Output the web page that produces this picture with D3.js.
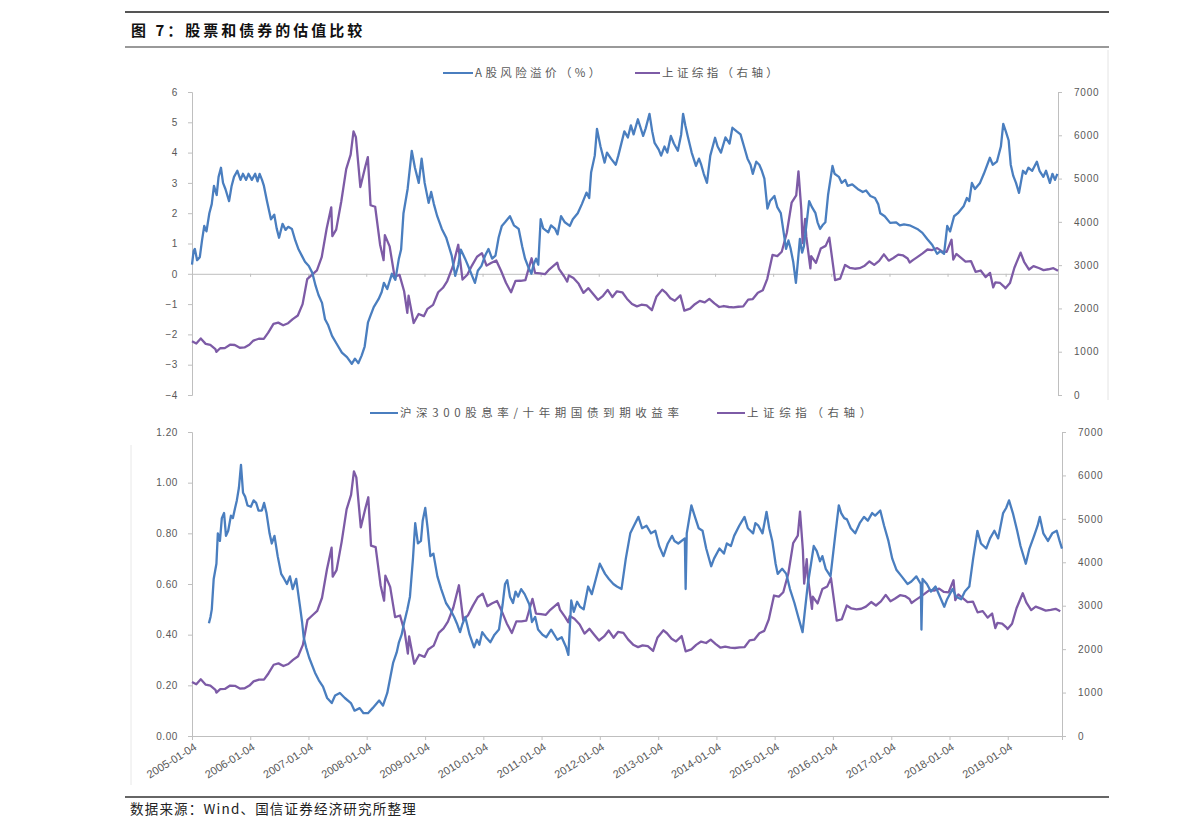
<!DOCTYPE html>
<html><head><meta charset="utf-8">
<script src="https://cdn.jsdelivr.net/npm/d3@7"></script>
<style>
body{margin:0;background:#fff;}
svg{display:block;}
</style></head>
<body><svg id="c" width="1191" height="838"></svg>
<script>
// ---------- DATA ----------
const titleText = "图 7：股票和债券的估值比较";
const sourceText = "数据来源：Wind、国信证券经济研究所整理";
const topLegend = ["A股风险溢价（%）", "上证综指（右轴）"];
const bottomLegend = ["沪深300股息率/十年期国债到期收益率", "上证综指（右轴）"];
const xTickLabels = ["2005-01-04","2006-01-04","2007-01-04","2008-01-04","2009-01-04","2010-01-04","2011-01-04","2012-01-04","2013-01-04","2014-01-04","2015-01-04","2016-01-04","2017-01-04","2018-01-04","2019-01-04"];
const topLeftTicks = [-4,-3,-2,-1,0,1,2,3,4,5,6];
const rightTicks = [0,1000,2000,3000,4000,5000,6000,7000];
const bottomLeftTicks = [0,0.2,0.4,0.6,0.8,1.0,1.2];

// 上证综指
const shDates = ["2005-01-04","2005-01-31","2005-02-28","2005-03-31","2005-04-29","2005-05-31","2005-06-06","2005-06-30","2005-07-29","2005-08-31","2005-09-30","2005-10-31","2005-11-30","2005-12-30",
"2006-01-25","2006-02-28","2006-03-31","2006-04-28","2006-05-31","2006-06-30","2006-07-31","2006-08-31","2006-09-29","2006-10-31","2006-11-30","2006-12-29",
"2007-01-31","2007-02-28","2007-03-30","2007-04-30","2007-05-29","2007-06-05","2007-06-29","2007-07-31","2007-08-31","2007-09-28","2007-10-16","2007-10-31","2007-11-28","2007-12-28",
"2008-01-14","2008-01-31","2008-02-29","2008-03-31","2008-04-22","2008-04-30","2008-05-30","2008-06-30","2008-07-31","2008-08-29","2008-09-18","2008-09-26","2008-10-28","2008-11-28","2008-12-31",
"2009-01-23","2009-02-27","2009-03-31","2009-04-30","2009-05-27","2009-06-30","2009-08-04","2009-08-31","2009-09-30","2009-10-30","2009-11-30","2009-12-31",
"2010-01-29","2010-02-26","2010-03-31","2010-04-30","2010-05-31","2010-07-02","2010-07-30","2010-08-31","2010-09-30","2010-11-08","2010-11-30","2010-12-31",
"2011-01-31","2011-02-28","2011-04-18","2011-04-29","2011-05-31","2011-06-20","2011-06-30","2011-07-29","2011-08-31","2011-09-30","2011-10-31","2011-11-30","2011-12-30",
"2012-01-31","2012-02-29","2012-03-30","2012-04-27","2012-05-31","2012-06-29","2012-07-31","2012-08-31","2012-09-28","2012-10-31","2012-12-03","2012-12-31",
"2013-02-06","2013-02-28","2013-03-29","2013-04-26","2013-05-31","2013-06-25","2013-07-31","2013-08-30","2013-09-30","2013-10-31","2013-11-29","2013-12-31",
"2014-01-30","2014-02-28","2014-03-31","2014-04-30","2014-05-30","2014-06-30","2014-07-31","2014-08-29","2014-09-30","2014-10-31","2014-11-28","2014-12-31",
"2015-01-30","2015-02-27","2015-03-31","2015-04-30","2015-05-29","2015-06-12","2015-06-30","2015-07-08","2015-07-24","2015-07-31","2015-08-26","2015-08-31","2015-09-30","2015-10-30","2015-11-30","2015-12-23",
"2016-01-28","2016-02-29","2016-03-31","2016-04-29","2016-05-31","2016-06-30","2016-07-29","2016-08-31","2016-09-30","2016-10-31","2016-11-30","2016-12-30",
"2017-01-26","2017-02-28","2017-03-31","2017-04-28","2017-05-11","2017-05-31","2017-06-30","2017-07-31","2017-08-31","2017-09-29","2017-10-31","2017-11-30","2017-12-29",
"2018-01-29","2018-02-09","2018-02-28","2018-03-30","2018-04-27","2018-05-31","2018-06-29","2018-07-31","2018-08-31","2018-09-28","2018-10-18","2018-10-31","2018-11-30","2018-12-28",
"2019-01-03","2019-01-31","2019-02-28","2019-04-08","2019-04-30","2019-05-31","2019-06-28","2019-07-31","2019-08-30","2019-09-30","2019-10-31","2019-11-29"];
const shValues = [1243,1191,1306,1181,1159,1060,998,1080,1083,1162,1155,1092,1099,1161,
1258,1299,1298,1440,1641,1672,1612,1658,1752,1837,2099,2675,
2786,2881,3183,3841,4335,3670,3821,4471,5218,5552,6092,5954,4803,5262,
5497,4383,4349,3473,3116,3693,3433,2736,2775,2397,1896,2293,1664,1871,1821,
1991,2082,2374,2477,2633,2959,3471,2667,2779,2996,3195,3277,
2989,3051,3109,2870,2592,2373,2638,2639,2655,3159,2820,2808,
2790,2905,3057,2912,2743,2621,2762,2701,2568,2359,2468,2333,2199,
2292,2428,2263,2396,2373,2225,2103,2047,2086,2069,1959,2269,
2434,2366,2237,2178,2301,1950,1994,2098,2175,2141,2220,2116,
2033,2056,2033,2026,2039,2048,2202,2217,2364,2420,2683,3235,
3210,3310,3748,4442,4612,5166,4277,3507,4070,3664,2927,3206,3053,3383,3445,3636,
2656,2688,3004,2938,2917,2930,2979,3085,3005,3100,3250,3104,
3159,3242,3223,3155,3062,3117,3192,3273,3361,3349,3393,3317,3307,
3587,3129,3259,3169,3082,3095,2847,2876,2725,2821,2486,2603,2588,2494,
2464,2585,2941,3288,3078,2899,2979,2933,2886,2905,2929,2872];

// A股风险溢价（%）
const erpDates = ["2005-01-04","2005-01-14","2005-01-22","2005-02-05","2005-02-22","2005-03-08","2005-03-22","2005-04-05","2005-04-23","2005-05-08","2005-05-22","2005-06-08","2005-06-20","2005-07-05","2005-07-18","2005-08-02","2005-08-25","2005-09-10","2005-09-25","2005-10-16","2005-11-05","2005-11-20","2005-12-10","2005-12-25",
"2006-01-15","2006-02-05","2006-02-20","2006-03-05","2006-03-20","2006-04-01","2006-04-20","2006-05-15","2006-06-05","2006-06-20","2006-07-05","2006-07-27","2006-08-15","2006-09-01","2006-09-24","2006-10-15","2006-11-05","2006-11-25","2006-12-15",
"2007-01-08","2007-01-30","2007-02-20","2007-03-10","2007-04-01","2007-04-20","2007-05-10","2007-06-03","2007-07-01","2007-08-04","2007-09-05","2007-10-05","2007-10-25","2007-11-15","2007-12-06","2007-12-25",
"2008-01-15","2008-01-30","2008-02-20","2008-03-22","2008-04-10","2008-04-24","2008-05-15","2008-06-13","2008-07-05","2008-07-27","2008-08-10","2008-08-25","2008-09-20","2008-10-16","2008-11-05","2008-11-29","2008-12-17",
"2009-01-05","2009-01-30","2009-02-15","2009-03-04","2009-03-25","2009-04-23","2009-05-20","2009-06-24","2009-07-16","2009-08-05","2009-08-20","2009-09-16","2009-10-10","2009-11-17","2009-12-05","2009-12-28",
"2010-01-20","2010-02-10","2010-03-05","2010-03-26","2010-04-15","2010-05-05","2010-05-25","2010-06-25","2010-07-20","2010-08-19","2010-09-10","2010-09-28","2010-10-20","2010-11-07","2010-11-20","2010-12-06","2010-12-20",
"2011-01-04","2011-01-20","2011-02-21","2011-03-10","2011-04-05","2011-04-20","2011-05-12","2011-06-05","2011-07-06","2011-07-25","2011-08-25","2011-09-20","2011-10-19","2011-11-05","2011-11-17","2011-12-10","2011-12-24",
"2012-01-15","2012-02-10","2012-02-25","2012-03-21","2012-04-20","2012-05-06","2012-06-13","2012-07-05","2012-07-24","2012-08-10","2012-09-06","2012-10-09","2012-10-25","2012-11-18","2012-12-05","2012-12-20",
"2013-01-15","2013-01-30","2013-02-20","2013-03-10","2013-04-01","2013-04-20","2013-05-15","2013-06-05","2013-06-17","2013-07-01","2013-07-16","2013-08-10","2013-09-06","2013-09-25","2013-10-09","2013-10-25","2013-11-14","2013-12-05",
"2014-01-04","2014-01-20","2014-02-10","2014-03-10","2014-04-05","2014-04-23","2014-05-20","2014-06-13","2014-07-05","2014-07-27","2014-08-15","2014-08-29","2014-09-20","2014-10-09","2014-10-25","2014-11-10","2014-11-29","2014-12-15",
"2015-01-12","2015-01-30","2015-02-21","2015-03-10","2015-03-26","2015-04-10","2015-04-23","2015-05-10","2015-05-27","2015-06-10","2015-06-21","2015-07-05","2015-07-16","2015-08-05","2015-08-18","2015-09-05","2015-09-27","2015-10-10","2015-10-26","2015-11-10","2015-11-28","2015-12-15",
"2016-01-12","2016-01-25","2016-02-21","2016-03-10","2016-04-01","2016-04-16","2016-05-15","2016-06-18","2016-07-20","2016-08-10","2016-09-06","2016-10-05","2016-10-25","2016-11-07","2016-12-05",
"2017-01-08","2017-02-15","2017-03-10","2017-04-05","2017-05-10","2017-06-28","2017-07-30","2017-08-29","2017-09-30","2017-10-30","2017-11-20","2017-12-13",
"2018-01-02","2018-01-20","2018-02-14","2018-03-10","2018-04-16","2018-05-05","2018-05-20","2018-06-06","2018-06-25","2018-07-27","2018-08-20","2018-09-27","2018-10-15","2018-11-10","2018-12-05","2018-12-20",
"2019-01-05","2019-01-23","2019-02-05","2019-02-21","2019-03-10","2019-03-29","2019-04-23","2019-05-10","2019-05-27","2019-06-20","2019-07-19","2019-08-05","2019-08-29","2019-09-15","2019-10-09","2019-10-25","2019-11-10","2019-11-25"];
const erpValues = [0.30,0.75,0.82,0.45,0.55,1.10,1.58,1.40,2.00,2.30,2.90,2.60,3.20,3.50,3.00,2.80,2.40,2.90,3.20,3.40,3.10,3.30,3.10,3.30,
3.10,3.30,3.05,3.30,3.10,2.90,2.40,1.80,1.95,1.50,1.19,1.65,1.45,1.55,1.48,1.10,0.80,0.60,0.40,
0.26,0.03,-0.40,-0.70,-0.96,-1.50,-1.70,-2.05,-2.30,-2.60,-2.75,-2.97,-2.80,-2.95,-2.70,-2.40,
-1.60,-1.39,-1.10,-0.83,-0.60,-0.30,-0.50,0.00,-0.20,0.50,0.80,2.00,2.80,4.06,3.50,3.00,3.80,
3.00,2.34,2.70,2.30,1.90,1.48,1.20,0.60,-0.07,0.30,0.80,0.50,0.20,-0.30,0.10,0.26,
0.60,0.82,0.50,0.60,1.20,1.58,1.70,1.90,1.60,1.48,0.90,0.50,0.20,0.00,0.30,0.50,0.30,
1.80,1.50,1.37,1.60,1.48,1.30,1.90,1.70,1.58,1.80,2.00,2.30,2.68,2.50,3.34,3.90,4.78,
4.20,3.67,4.00,3.80,3.60,3.90,4.70,4.50,4.90,4.60,5.10,4.55,4.80,5.28,4.70,4.32,
4.10,3.90,4.20,4.00,4.55,4.30,4.06,4.60,5.28,4.90,4.55,4.00,3.56,3.80,3.60,3.30,3.00,3.90,
4.49,4.20,4.00,4.50,4.30,4.82,4.70,4.60,4.20,3.80,3.60,3.30,3.70,3.60,3.40,3.14,2.15,2.40,
2.57,2.20,2.00,1.40,0.82,1.10,0.85,0.40,-0.30,0.50,1.15,0.70,0.90,1.80,2.40,2.20,2.00,1.70,1.48,1.60,1.70,2.60,
3.56,3.30,3.20,3.00,3.10,2.90,2.95,2.80,2.70,2.75,2.57,2.50,2.30,2.00,1.90,
1.68,1.70,1.60,1.63,1.60,1.48,1.35,1.15,0.95,0.66,0.75,0.66,
1.58,1.40,1.90,2.00,2.24,2.50,2.40,3.00,2.80,3.00,3.30,3.83,3.60,3.70,4.20,4.95,
4.70,4.40,3.60,3.23,3.00,2.67,3.40,3.30,3.50,3.40,3.70,3.40,3.20,3.40,3.00,3.30,3.10,3.30];

// 沪深300股息率/十年期国债到期收益率
const dyDates = ["2005-04-20","2005-04-30","2005-05-08","2005-05-20","2005-06-06","2005-06-15","2005-06-28","2005-07-10","2005-07-24","2005-08-05","2005-08-19","2005-09-05","2005-09-17","2005-10-01","2005-10-12","2005-10-25","2005-11-07","2005-11-20","2005-12-03","2005-12-18",
"2006-01-08","2006-01-25","2006-02-10","2006-02-25","2006-03-18","2006-04-01","2006-04-16","2006-05-05","2006-05-19","2006-06-05","2006-06-25","2006-07-17","2006-08-05","2006-08-22","2006-09-10","2006-09-27","2006-10-19","2006-11-10","2006-11-25","2006-12-05","2006-12-20",
"2007-01-08","2007-02-14","2007-03-10","2007-04-05","2007-05-01","2007-05-30","2007-06-20","2007-07-20","2007-08-20","2007-09-27","2007-10-20","2007-11-21","2007-12-15",
"2008-01-12","2008-02-10","2008-03-22","2008-04-15","2008-05-12","2008-06-18","2008-07-10","2008-07-24","2008-08-10","2008-08-25","2008-09-15","2008-10-01","2008-10-20","2008-11-03","2008-11-20","2008-12-09","2008-12-20",
"2009-01-05","2009-01-20","2009-02-06","2009-02-25","2009-03-22","2009-04-15","2009-05-15","2009-06-10","2009-07-05","2009-07-25","2009-08-11","2009-08-25","2009-09-13","2009-10-10","2009-11-07","2009-11-25","2009-12-10","2009-12-28",
"2010-01-20","2010-02-17","2010-03-15","2010-04-12","2010-05-05","2010-05-20","2010-06-03","2010-06-20","2010-07-09","2010-07-25","2010-08-10","2010-08-29","2010-09-20","2010-10-19","2010-11-05","2010-11-25","2010-12-13",
"2011-01-10","2011-02-03","2011-03-05","2011-04-13","2011-05-10","2011-06-07","2011-06-21","2011-07-09","2011-07-25","2011-08-15","2011-09-02","2011-09-25","2011-10-23","2011-11-15","2011-12-10",
"2012-01-04","2012-02-06","2012-03-01","2012-03-29","2012-04-20","2012-05-19","2012-06-15","2012-07-13","2012-08-05","2012-09-02","2012-09-25","2012-10-23","2012-11-20","2012-12-17",
"2013-01-10","2013-02-06","2013-03-05","2013-04-01","2013-04-16","2013-05-10","2013-06-20","2013-06-25","2013-07-02","2013-07-31","2013-08-25","2013-09-15","2013-10-09","2013-11-01","2013-12-02","2013-12-20",
"2014-01-23","2014-02-20","2014-03-10","2014-04-05","2014-04-25","2014-05-27","2014-06-29","2014-07-20","2014-08-22","2014-09-05","2014-09-24","2014-10-20","2014-11-14","2014-12-01","2014-12-20",
"2015-01-10","2015-01-23","2015-02-20","2015-03-18","2015-04-10","2015-05-08","2015-06-01","2015-06-28","2015-07-10","2015-07-31","2015-08-20","2015-09-06","2015-09-25","2015-10-15","2015-10-30","2015-11-20","2015-12-20",
"2016-01-20","2016-02-10","2016-02-25","2016-03-15","2016-04-01","2016-04-25","2016-05-23","2016-06-20","2016-07-17","2016-08-10","2016-09-06","2016-09-25","2016-10-27","2016-11-20","2016-12-17",
"2017-01-10","2017-02-06","2017-03-10","2017-04-16","2017-05-10","2017-06-10","2017-07-08","2017-07-12","2017-07-19","2017-08-15","2017-09-10","2017-10-08","2017-11-05","2017-12-02","2017-12-20",
"2018-01-23","2018-02-15","2018-03-18","2018-04-10","2018-05-08","2018-06-01","2018-06-28","2018-07-20","2018-08-22","2018-09-15","2018-10-12","2018-11-05","2018-12-06","2018-12-25",
"2019-01-12","2019-02-05","2019-03-04","2019-03-25","2019-04-27","2019-05-20","2019-06-18","2019-07-10","2019-07-24","2019-08-15","2019-09-13","2019-10-10","2019-11-07","2019-11-25","2019-12-10"];
const dyValues = [0.445,0.47,0.50,0.62,0.68,0.80,0.77,0.86,0.88,0.79,0.81,0.87,0.86,0.90,0.93,0.98,1.07,0.96,0.945,0.91,
0.905,0.93,0.92,0.89,0.89,0.92,0.88,0.80,0.76,0.79,0.71,0.64,0.62,0.60,0.63,0.58,0.62,0.52,0.45,0.39,0.35,
0.31,0.25,0.22,0.195,0.15,0.13,0.16,0.17,0.15,0.13,0.10,0.11,0.09,
0.09,0.11,0.14,0.12,0.17,0.29,0.33,0.37,0.40,0.445,0.50,0.55,0.70,0.84,0.76,0.77,0.85,
0.90,0.82,0.71,0.72,0.63,0.58,0.525,0.50,0.47,0.44,0.41,0.44,0.47,0.40,0.35,0.38,0.36,0.41,
0.39,0.37,0.40,0.42,0.52,0.60,0.615,0.55,0.525,0.57,0.55,0.58,0.56,0.52,0.45,0.47,0.42,
0.40,0.39,0.42,0.38,0.39,0.35,0.32,0.535,0.49,0.53,0.51,0.50,0.59,0.56,0.62,
0.68,0.64,0.62,0.60,0.59,0.58,0.70,0.80,0.83,0.865,0.82,0.83,0.80,0.81,
0.75,0.71,0.76,0.79,0.77,0.76,0.78,0.58,0.80,0.91,0.86,0.82,0.81,0.74,0.67,0.70,
0.74,0.72,0.76,0.75,0.79,0.83,0.865,0.82,0.80,0.84,0.83,0.80,0.885,0.82,0.77,
0.68,0.64,0.66,0.64,0.58,0.525,0.47,0.41,0.48,0.60,0.68,0.75,0.73,0.69,0.71,0.66,0.63,
0.80,0.91,0.88,0.86,0.855,0.82,0.80,0.84,0.865,0.85,0.88,0.87,0.89,0.83,0.77,
0.70,0.655,0.63,0.60,0.61,0.63,0.60,0.42,0.62,0.60,0.57,0.59,0.55,0.51,0.54,
0.58,0.55,0.54,0.57,0.59,0.70,0.81,0.76,0.74,0.78,0.81,0.78,0.88,0.90,
0.93,0.88,0.81,0.75,0.68,0.74,0.79,0.83,0.865,0.80,0.77,0.80,0.81,0.77,0.74];

// ---------- DRAW ----------
const parse = d3.timeParse("%Y-%m-%d");
const BLUE = "#4a7ebf", PURPLE = "#7d5ba6";
const AXIS = "#bfbfbf", LABEL = "#595959";
const svg = d3.select("#c");
svg.append("rect").attr("width",1191).attr("height",838).attr("fill","#fff");

const sh = shDates.map((d,i)=>({date:parse(d), v:shValues[i]}));
const erp = erpDates.map((d,i)=>({date:parse(d), v:erpValues[i]}));
const dy = dyDates.map((d,i)=>({date:parse(d), v:dyValues[i]}));
const tickDates = xTickLabels.map(parse);

// frame lines
svg.append("line").attr("x1",125).attr("x2",1109).attr("y1",12).attr("y2",12).attr("stroke","#555").attr("stroke-width",2);
svg.append("line").attr("x1",125).attr("x2",1109).attr("y1",47).attr("y2",47).attr("stroke","#777").attr("stroke-width",1.5);
svg.append("line").attr("x1",125).attr("x2",1109).attr("y1",797).attr("y2",797).attr("stroke","#666").attr("stroke-width",2);
svg.append("text").attr("x",131).attr("y",36).attr("font-family","'Noto Sans CJK SC'").attr("font-weight","bold")
  .attr("font-size",15).attr("letter-spacing",3).attr("fill","#111").text(titleText);
svg.append("text").attr("x",130).attr("y",814).attr("font-family","'Noto Sans CJK SC'")
  .attr("font-size",13.5).attr("letter-spacing",1.2).attr("fill","#222").text(sourceText);
// faint chart-area borders
svg.append("line").attr("x1",1108).attr("x2",1108).attr("y1",50).attr("y2",400).attr("stroke","#e4e4e4");
svg.append("line").attr("x1",131).attr("x2",131).attr("y1",445).attr("y2",785).attr("stroke","#e8e8e8");

function legend(items, colors, lineX, y, fs, ls){
  items.forEach((t,i)=>{
    svg.append("line").attr("x1",lineX[i][0]).attr("x2",lineX[i][1]).attr("y1",y).attr("y2",y)
      .attr("stroke",colors[i]).attr("stroke-width",2);
    svg.append("text").attr("x",lineX[i][1]+2).attr("y",y).attr("dy","0.35em")
      .attr("font-family","'Noto Sans CJK SC'").attr("font-size",fs).attr("letter-spacing",ls)
      .attr("fill",LABEL).text(t);
  });
}

function panel(cfg){
  const x = d3.scaleTime().domain([parse("2005-01-04"), parse(cfg.end)]).range([192, cfg.right]);
  const yL = d3.scaleLinear().domain(cfg.leftDomain).range([cfg.bottom, cfg.top]);
  const yR = d3.scaleLinear().domain([0,7000]).range([cfg.bottom, cfg.top]);
  const g = svg.append("g");
  const la = g.append("g").attr("transform","translate(192,0)")
    .call(d3.axisLeft(yL).tickValues(cfg.leftTicks).tickSize(4).tickPadding(10).tickFormat(cfg.leftFmt));
  la.select(".domain").attr("stroke",AXIS);
  la.selectAll(".tick line").attr("stroke",AXIS);
  la.selectAll("text").attr("fill",LABEL).attr("font-family","'Liberation Sans'").attr("font-size",10).attr("letter-spacing",0.6);
  const ra = g.append("g").attr("transform",`translate(${cfg.right},0)`)
    .call(d3.axisRight(yR).tickValues(rightTicks).tickSize(4).tickPadding(12).tickFormat(d3.format("d")));
  ra.select(".domain").attr("stroke",AXIS);
  ra.selectAll(".tick line").attr("stroke",AXIS);
  ra.selectAll("text").attr("fill",LABEL).attr("font-family","'Liberation Sans'").attr("font-size",10).attr("letter-spacing",0.8);
  const xa = g.append("g").attr("transform",`translate(0,${yL(0)})`)
    .call(d3.axisBottom(x).tickValues(tickDates).tickSize(cfg.showLabels?4:3).tickFormat((d,i)=>xTickLabels[i]));
  xa.select(".domain").attr("stroke",AXIS);
  xa.selectAll(".tick line").attr("stroke",AXIS);
  if(cfg.showLabels){
    xa.selectAll("text").attr("fill",LABEL).attr("font-family","'Liberation Sans'").attr("font-size",11)
      .attr("text-anchor","end").attr("dy",0).attr("y",0)
      .attr("transform","translate(5,13) rotate(-32)");
  } else {
    xa.selectAll("text").remove();
  }
  g.append("path").datum(sh.filter(d=>d.date<=x.domain()[1])).attr("fill","none").attr("stroke",PURPLE).attr("stroke-width",2.3)
    .attr("stroke-linejoin","round")
    .attr("d", d3.line().x(d=>x(d.date)).y(d=>yR(d.v)));
  g.append("path").datum(cfg.data).attr("fill","none").attr("stroke",BLUE).attr("stroke-width",2.3)
    .attr("stroke-linejoin","round")
    .attr("d", d3.line().x(d=>x(d.date)).y(d=>yL(d.v)));
}

panel({end:"2019-11-29", right:1058, top:92, bottom:395, leftDomain:[-4,6], leftTicks:topLeftTicks,
  leftFmt:d3.format("d"), data:erp, showLabels:false});
panel({end:"2019-12-10", right:1062, top:432, bottom:736, leftDomain:[0,1.2], leftTicks:bottomLeftTicks,
  leftFmt:d3.format(".2f"), data:dy, showLabels:true});

legend(topLegend,[BLUE,PURPLE],[[443,473],[635,660]],73,11.5,3.4);
legend(bottomLegend,[BLUE,PURPLE],[[370,398],[717,745]],413,11.5,4.6);
</script></body></html>
